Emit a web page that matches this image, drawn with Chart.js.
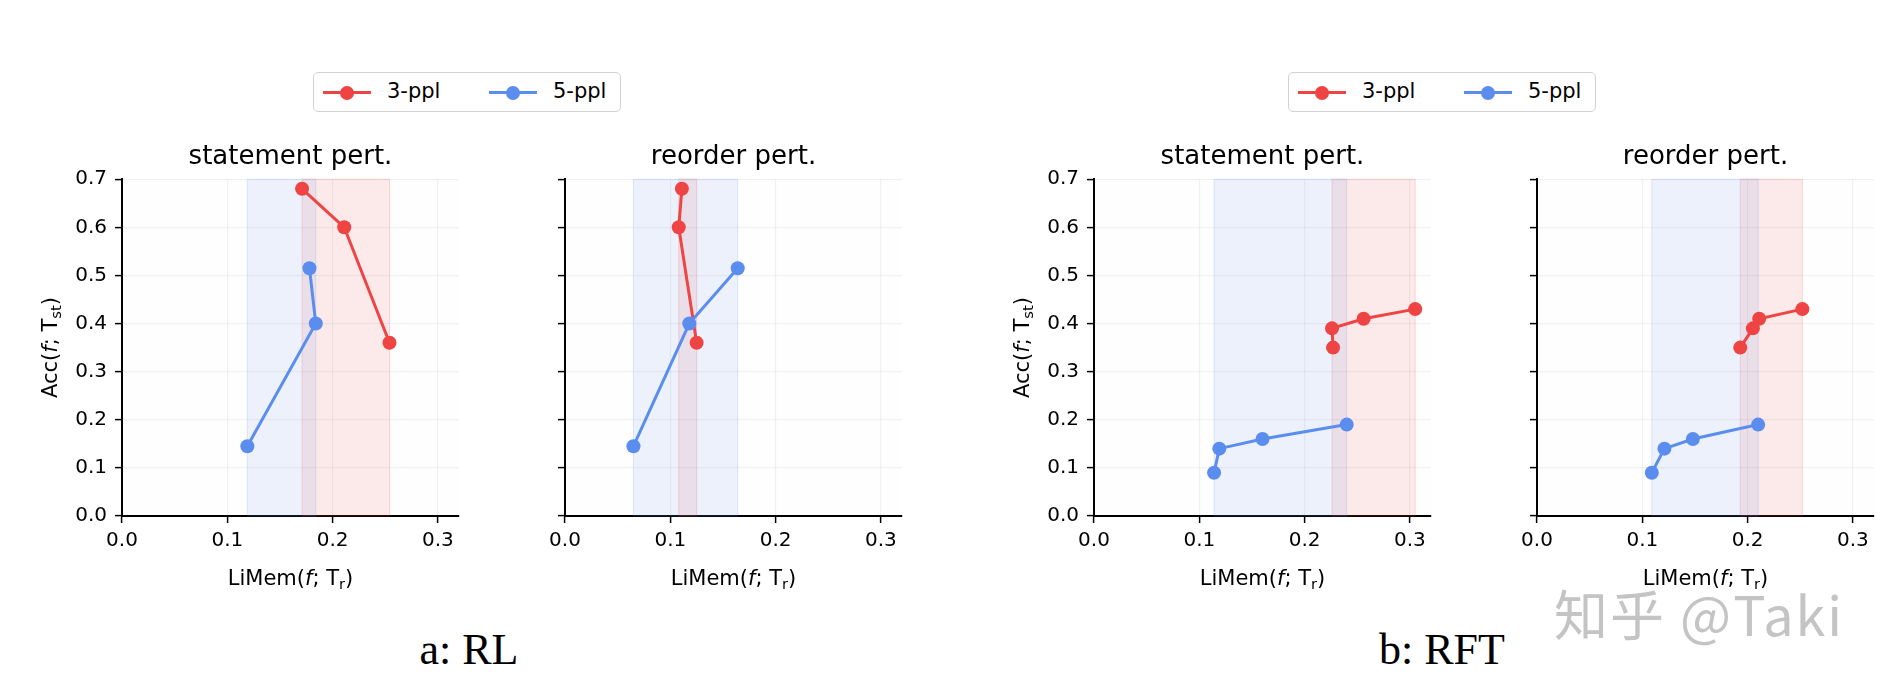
<!DOCTYPE html>
<html>
<head>
<meta charset="utf-8">
<script src="https://cdn.jsdelivr.net/npm/chart.js@4.4.0/dist/chart.umd.min.js"></script>
<style>
  body { margin: 0; background: #fff; }
  #fig { position: relative; width: 1894px; height: 686px; overflow: hidden; font-family: "DejaVu Sans", sans-serif; }
  .panel { position: absolute; top: 120px; }
  .legend { position: absolute; top: 72px; width: 308px; height: 40px; box-sizing: border-box;
            border: 1.5px solid #d2d2d2; border-radius: 5px; background: #fff; }
  .legend .ln { position: absolute; top: 18px; height: 3px; width: 48px; }
  .legend .dot { position: absolute; top: 12.5px; width: 14px; height: 14px; border-radius: 50%; }
  .legend .txt { position: absolute; top: 0; line-height: 37px; font-size: 21px; color: #000; }
  .caption { position: absolute; top: 628px; width: 300px; text-align: center;
             font-family: "Liberation Serif", "Times New Roman", serif; font-size: 44px; line-height: 44px; color: #000; }
  .mark { position: absolute; left: 1554px; top: 586px; font-family: "Noto Sans CJK SC", sans-serif;
          font-size: 54px; line-height: 54px; letter-spacing: 2px; color: #c4c4c4; }
</style>
</head>
<body>
<div id="fig">
  <canvas id="c1" class="panel" width="471" height="480" style="left:0px"></canvas>
  <canvas id="c2" class="panel" width="471" height="480" style="left:443px"></canvas>
  <canvas id="c3" class="panel" width="471" height="480" style="left:972px"></canvas>
  <canvas id="c4" class="panel" width="471" height="480" style="left:1415px"></canvas>
  <div id="legA" class="legend" style="left:313px"></div>
  <div id="legB" class="legend" style="left:1288px"></div>
  <div id="capA" class="caption" style="left:319px"></div>
  <div id="capB" class="caption" style="left:1292px"></div>
  <div class="mark">知乎 @Taki</div>
</div>
<script>
const seriesNames = ["3-ppl", "5-ppl"];
const seriesColors = ["#ef4444", "#5b8def"];
const panelTitles = ["statement pert.", "reorder pert.", "statement pert.", "reorder pert."];
const groupCaptions = ["a: RL", "b: RFT"];

// a: RL, statement pert.
const rlStmt3X = [0.171, 0.211, 0.254];
const rlStmt3Y = [0.68, 0.60, 0.36];
const rlStmt5X = [0.119, 0.184, 0.178];
const rlStmt5Y = [0.145, 0.40, 0.515];

// a: RL, reorder pert.
const rlReord3X = [0.111, 0.108, 0.125];
const rlReord3Y = [0.68, 0.60, 0.36];
const rlReord5X = [0.065, 0.118, 0.164];
const rlReord5Y = [0.145, 0.40, 0.515];

// b: RFT, statement pert.
const rftStmt3X = [0.227, 0.226, 0.256, 0.305];
const rftStmt3Y = [0.35, 0.39, 0.41, 0.43];
const rftStmt5X = [0.114, 0.119, 0.160, 0.240];
const rftStmt5Y = [0.09, 0.14, 0.16, 0.19];

// b: RFT, reorder pert.
const rftReord3X = [0.193, 0.205, 0.211, 0.252];
const rftReord3Y = [0.35, 0.39, 0.41, 0.43];
const rftReord5X = [0.109, 0.121, 0.148, 0.210];
const rftReord5Y = [0.09, 0.14, 0.16, 0.19];

const FONT = "'DejaVu Sans', sans-serif";
const bandFills = ["rgba(239,68,68,0.11)", "rgba(91,141,239,0.11)"];
const bandEdges = ["rgba(239,68,68,0.18)", "rgba(91,141,239,0.18)"];

// axis labels with italic f and subscripts
const xLabelParts = [{s: "LiMem("}, {s: "f", it: true}, {s: "; T"}, {s: "r", sub: true}, {s: ")"}];
const yLabelParts = [{s: "Acc("}, {s: "f", it: true}, {s: "; T"}, {s: "st", sub: true}, {s: ")"}];

function drawRich(ctx, parts, cx, cy, size, rot) {
  ctx.save();
  ctx.translate(cx, cy);
  ctx.rotate(rot);
  ctx.fillStyle = "#000";
  ctx.textBaseline = "alphabetic";
  const fonts = parts.map(p => (p.it ? "italic " : "") + (p.sub ? size * 0.7 : size) + "px " + FONT);
  let w = 0;
  const ws = parts.map((p, i) => { ctx.font = fonts[i]; const m = ctx.measureText(p.s).width; w += m; return m; });
  let x = -w / 2;
  parts.forEach((p, i) => {
    ctx.font = fonts[i];
    ctx.fillText(p.s, x, size * 0.36 + (p.sub ? size * 0.2 : 0));
    x += ws[i];
  });
  ctx.restore();
}

const bgPlugin = {
  id: "plotBg",
  beforeDraw(chart) {
    const {ctx, chartArea: a} = chart;
    ctx.save();
    ctx.fillStyle = "#fefefe";
    ctx.fillRect(a.left, a.top, a.right - a.left, a.bottom - a.top);
    ctx.restore();
  }
};

const bandPlugin = {
  id: "bands",
  beforeDatasetsDraw(chart) {
    const {ctx, chartArea: a, scales: {x}} = chart;
    chart.data.datasets.forEach((ds, i) => {
      const xs = ds.data.map(p => p.x);
      const x1 = x.getPixelForValue(Math.min(...xs));
      const x2 = x.getPixelForValue(Math.max(...xs));
      ctx.save();
      ctx.fillStyle = bandFills[i];
      ctx.fillRect(x1, a.top, x2 - x1, a.bottom - a.top);
      ctx.strokeStyle = bandEdges[i];
      ctx.lineWidth = 1;
      ctx.strokeRect(x1, a.top, x2 - x1, a.bottom - a.top);
      ctx.restore();
    });
  }
};

const labelPlugin = {
  id: "axisLabels",
  afterDraw(chart, args, opts) {
    const {ctx, chartArea: a} = chart;
    drawRich(ctx, xLabelParts, (a.left + a.right) / 2, a.bottom + 61, 21, 0);
    if (opts.showY) drawRich(ctx, yLabelParts, a.left - 73, (a.top + a.bottom) / 2, 21, -Math.PI / 2);
  }
};

function makePanel(id, title, series, showY) {
  const datasets = series.map((s, i) => ({
    label: seriesNames[i],
    data: s.x.map((v, j) => ({x: v, y: s.y[j]})),
    showLine: true,
    order: i === 0 ? 1 : 0,
    borderColor: seriesColors[i],
    backgroundColor: seriesColors[i],
    borderWidth: 3,
    pointRadius: 7,
    pointHoverRadius: 7,
    pointBorderWidth: 0
  }));
  const tickFont = {family: FONT, size: 20};
  const grid = {color: "rgba(0,0,0,0.05)", lineWidth: 1.2, tickColor: "#000", tickLength: 7, tickWidth: 1.5};
  return new Chart(document.getElementById(id), {
    type: "scatter",
    data: {datasets},
    options: {
      responsive: false,
      animation: false,
      events: [],
      layout: {padding: {left: 0, right: 12, top: 0, bottom: 0}},
      plugins: {
        legend: {display: false},
        tooltip: {enabled: false},
        title: {display: true, text: title, fullSize: false, color: "#000",
                font: {family: FONT, size: 26, weight: "normal"}, padding: {top: 22, bottom: 6}},
        axisLabels: {showY}
      },
      scales: {
        x: {
          type: "linear", min: 0, max: 0.32,
          afterFit: s => { s.height = 84; },
          ticks: {stepSize: 0.1, includeBounds: false, padding: 6, color: "#000", font: tickFont,
                  callback: v => v.toFixed(1)},
          grid, border: {color: "#000", width: 2}
        },
        y: {
          type: "linear", min: 0, max: 0.7,
          afterFit: s => { s.width = 122; },
          ticks: {stepSize: 0.1, display: showY, padding: 8, color: "#000", font: tickFont,
                  callback: v => v.toFixed(1)},
          grid, border: {color: "#000", width: 2}
        }
      }
    },
    plugins: [bgPlugin, bandPlugin, labelPlugin]
  });
}

makePanel("c1", panelTitles[0], [{x: rlStmt3X, y: rlStmt3Y}, {x: rlStmt5X, y: rlStmt5Y}], true);
makePanel("c2", panelTitles[1], [{x: rlReord3X, y: rlReord3Y}, {x: rlReord5X, y: rlReord5Y}], false);
makePanel("c3", panelTitles[2], [{x: rftStmt3X, y: rftStmt3Y}, {x: rftStmt5X, y: rftStmt5Y}], true);
makePanel("c4", panelTitles[3], [{x: rftReord3X, y: rftReord3Y}, {x: rftReord5X, y: rftReord5Y}], false);

// legends above each group
const legendSlots = [{ln: 9, dot: 26, txt: 73}, {ln: 175, dot: 192, txt: 239}];
["legA", "legB"].forEach(id => {
  const box = document.getElementById(id);
  seriesNames.forEach((name, i) => {
    const s = legendSlots[i];
    box.insertAdjacentHTML("beforeend",
      `<div class="ln" style="left:${s.ln}px;background:${seriesColors[i]}"></div>` +
      `<div class="dot" style="left:${s.dot}px;background:${seriesColors[i]}"></div>` +
      `<div class="txt" style="left:${s.txt}px">${name}</div>`);
  });
});
document.getElementById("capA").textContent = groupCaptions[0];
document.getElementById("capB").textContent = groupCaptions[1];
</script>
</body>
</html>
